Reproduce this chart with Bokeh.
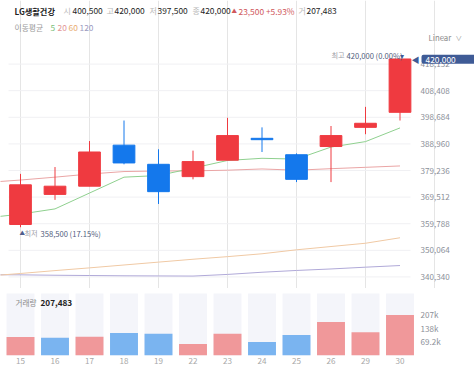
from bokeh.plotting import figure
from bokeh.models import Range1d, FixedTicker, NumeralTickFormatter, Label, ColumnDataSource
from bokeh.layouts import column
from bokeh.embed import file_html
from bokeh.resources import INLINE

# ---------------- data ----------------
days = ["15", "16", "17", "18", "19", "22", "23", "24", "25", "26", "29", "30"]
open_p = [359500, 370500, 373500, 388500, 381500, 377000, 383000, 391000, 385000, 388000, 395000, 400500]
high_p = [378000, 380500, 390000, 397500, 387000, 386500, 398500, 395000, 385500, 395500, 402500, 420000]
low_p = [358500, 368500, 373500, 381500, 367000, 376000, 383000, 386000, 375000, 375000, 392500, 397500]
close_p = [374000, 373500, 386000, 382000, 371500, 382500, 392000, 390500, 376000, 392000, 396500, 420000]
volume = [94800, 91200, 96400, 115300, 111700, 58900, 111700, 69200, 105000, 171700, 118900, 207483]
vol_up = [True, False, True, False, False, True, True, False, False, True, True, True]

# moving averages: first value is the session before "15"
ma5 = [361900, 363300, 365200, 371000, 376800, 377400, 380100, 382900, 383700, 383400, 387800, 389800, 394800]
ma20 = [374850, 375750, 376800, 377950, 378850, 379050, 379100, 379350, 379800, 379350, 379900, 380400, 380900]
ma60 = [340600, 341600, 342650, 343650, 344700, 345750, 346800, 347750, 348800, 350250, 351450, 352650, 354650]
ma120 = [341150, 341100, 340950, 340850, 340750, 340700, 340650, 341250, 342050, 342700, 343250, 343900, 344500]

price_ticks = [340340, 350064, 359788, 369512, 379236, 388960, 398684, 408408, 418132]
vol_ticks = [69161, 138322, 207483]
vol_tick_labels = ["69.2k", "138k", "207k"]

# ---------------- style ----------------
FONT = "Noto Sans CJK KR"
RED, BLUE = "#ef3a40", "#1478ec"
VRED, VBLUE = "#f0989a", "#7ab4f0"
GRAY = "#8c9099"
AX_FS = "8.1px"

W = 474
P1H = 288
LABEL_X = 420   # page x where the value-axis labels start
# page-pixel helpers for the price panel (frame spans the whole figure)
X0, DX = 20.0, 34.5
P0, PY0, PPX = 379236.0, 170.0, 365.5


def xd(px):
    return (px - X0) / DX


def yd(py):
    return P0 - (py - PY0) * PPX


p1 = figure(width=W, height=P1H, output_backend="svg", toolbar_location=None,
            x_axis_location=None, y_axis_location="right",
            x_range=Range1d(xd(0), xd(W)), y_range=Range1d(yd(P1H), yd(0)),
            min_border_left=0, min_border_top=0, min_border_bottom=0, min_border_right=0,
            outline_line_color=None, background_fill_color="white", border_fill_color="white")
p1.yaxis.ticker = FixedTicker(ticks=price_ticks)
p1.yaxis.formatter = NumeralTickFormatter(format="0,0")
p1.yaxis.axis_line_color = None
p1.yaxis.major_tick_line_color = None
p1.yaxis.minor_tick_line_color = None
p1.yaxis.major_tick_out = 0
p1.yaxis.major_tick_in = 0
p1.yaxis.major_label_standoff = LABEL_X - W
p1.yaxis.major_label_text_font = FONT
p1.yaxis.major_label_text_font_size = AX_FS
p1.yaxis.major_label_text_color = GRAY
p1.ygrid.visible = False

# horizontal grid lines at the axis ticks, ending before the label column
p1.segment(x0=[xd(8)] * len(price_ticks), x1=[xd(410)] * len(price_ticks),
           y0=price_ticks, y1=price_ticks, line_color="#f0f0f3", line_width=1)

ma_x = list(range(-1, len(days)))
p1.line(ma_x, ma120, line_color="#b0a9d8", line_width=1)
p1.line(ma_x, ma60, line_color="#f0c9a4", line_width=1)
p1.line(ma_x, ma20, line_color="#eaa5a5", line_width=1)
p1.line(ma_x, ma5, line_color="#8fd08f", line_width=1)

xs = list(range(len(days)))
ccol = [RED if c >= o else BLUE for o, c in zip(open_p, close_p)]
src = ColumnDataSource(dict(
    x=xs, high=high_p, low=low_p,
    top=[max(o, c) for o, c in zip(open_p, close_p)],
    bottom=[min(o, c) for o, c in zip(open_p, close_p)],
    color=ccol))
p1.segment(x0="x", y0="low", x1="x", y1="high", line_color="color", line_width=1, source=src)
p1.vbar(x="x", width=0.63, top="top", bottom="bottom", fill_color="color",
        line_color="color", line_width=1, source=src)


def lab(fig, px, py, text, color, size="8.2px", bold=False, **kw):
    # screen units: x from the frame's left, y from the frame's bottom
    fig.add_layout(Label(x=px, y=P1H - py, x_units="screen", y_units="screen",
                         text=text, text_color=color, text_font=FONT,
                         text_font_size=size, text_font_style="bold" if bold else "normal",
                         text_baseline="middle", text_align="left", **kw))


# header row
hy = 10
lab(p1, 14, hy, "LG생활건강", "#222222", size="8.2px", bold=True)
for x_, t, c in [(63, "시", "#b8b8b8"), (72, "400,500", "#1e1e1e"),
                 (106, "고", "#b8b8b8"), (114, "420,000", "#1e1e1e"),
                 (149, "저", "#b8b8b8"), (157, "397,500", "#1e1e1e"),
                 (192, "종", "#b8b8b8"), (200, "420,000", "#1e1e1e"),
                 (238, "23,500 +5.93%", "#d0585c"),
                 (298, "거", "#b8b8b8"), (306, "207,483", "#1e1e1e")]:
    lab(p1, x_, hy, t, c, size="8px" if len(t) == 1 else "8.4px")
lab(p1, 231, hy, "▲", "#d0585c", size="5.5px")

ry = 27
lab(p1, 14, ry, "이동평균", "#9a9a9a", size="7.8px")
lab(p1, 50, ry, "5", "#7cbf7c", size="8.4px")
lab(p1, 57, ry, "20", "#e39696", size="8.4px")
lab(p1, 68, ry, "60", "#e8ac70", size="8.4px")
lab(p1, 79, ry, "120", "#9c9ac0", size="8.4px")

lab(p1, 428, 37, "Linear", "#8a8a8a", size="7.8px")
lab(p1, 455, 37, "∨", "#8a8a8a", size="6.5px")

# high / low annotations
lab(p1, 331, 54.7, "최고", "#a0a0a8", size="7.2px")
lab(p1, 346, 54.7, "420,000 (0.00%)", "#4f5d7c", size="7.6px")
lab(p1, 399, 54.7, "▾", "#3f5b96", size="7.5px")
lab(p1, 19, 232.7, "▲", "#4f5d8c", size="5.5px")
lab(p1, 24, 232.7, "최저", "#a0a0a8", size="7.2px")
lab(p1, 40, 232.7, "358,500 (17.15%)", "#4f5d7c", size="7.6px")

# current price tag
lab(p1, 411, 58.8, "◀", "#3f5b96", size="8px")
p1.add_layout(Label(x=421, y=P1H - 58.8, x_units="screen", y_units="screen",
                    text="420,000", text_color="white",
                    text_font=FONT, text_font_size="8.4px", text_baseline="middle",
                    text_align="left", background_fill_color="#3f5b96",
                    padding=dict(left=4, right=20, top=1, bottom=1), border_radius=2))

# ---------------- volume panel ----------------
VPX = 5123.0
P2H = 372 - P1H
V_ZERO = 355  # page y of zero volume
p2 = figure(width=W, height=P2H, output_backend="svg", toolbar_location=None,
            x_range=p1.x_range, y_range=Range1d(0, (V_ZERO - P1H) * VPX),
            x_axis_location="below", y_axis_location="right",
            min_border_left=0, min_border_top=0, min_border_bottom=372 - V_ZERO,
            min_border_right=0,
            outline_line_color=None, background_fill_color="white", border_fill_color="white")
p2.xgrid.visible = False
p2.ygrid.visible = False
p2.vbar(x=xs, width=0.81, top=[(V_ZERO - 293) * VPX] * len(xs), bottom=0,
        fill_color="#f4f5fa", line_color=None)
p2.vbar(x=xs, width=0.81, top=volume, bottom=0,
        fill_color=[VRED if u else VBLUE for u in vol_up], line_color=None)

p2.yaxis.ticker = FixedTicker(ticks=vol_ticks)
p2.yaxis.major_label_overrides = {t: s for t, s in zip(vol_ticks, vol_tick_labels)}
p2.xaxis.ticker = FixedTicker(ticks=xs)
p2.xaxis.major_label_overrides = {i: d for i, d in zip(xs, days)}
for ax in (p2.xaxis[0], p2.yaxis[0]):
    ax.axis_line_color = None
    ax.major_tick_line_color = None
    ax.minor_tick_line_color = None
    ax.major_tick_out = 0
    ax.major_tick_in = 0
    ax.major_label_text_font = FONT
    ax.major_label_text_font_size = AX_FS
    ax.major_label_text_color = GRAY
p2.yaxis.major_label_standoff = LABEL_X - W
p2.xaxis.major_label_standoff = 2
p2.xaxis.major_label_text_color = "#a8a8a8"

vy = (V_ZERO - 302) * VPX
p2.add_layout(Label(x=xd(15), y=vy, text="거래량", text_color="#8a8a8a", text_font=FONT,
                    text_font_size="7.6px", text_baseline="middle"))
p2.add_layout(Label(x=xd(40), y=vy, text="207,483", text_color="#222222", text_font=FONT,
                    text_font_size="8.2px", text_font_style="bold", text_baseline="middle"))

layout = column(p1, p2)
open("out.html", "w").write(file_html(layout, INLINE))
